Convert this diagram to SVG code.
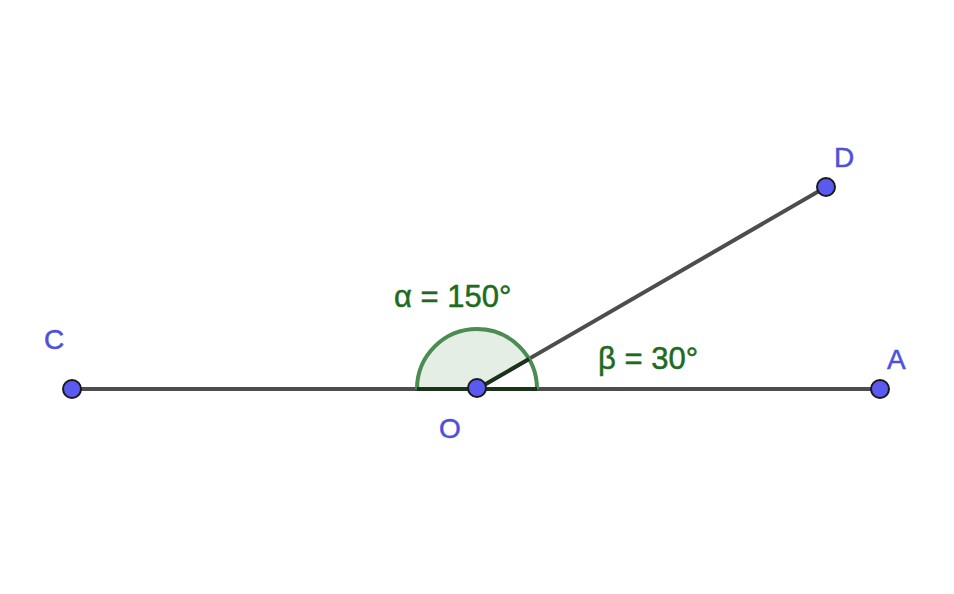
<svg xmlns="http://www.w3.org/2000/svg" width="954" height="594" viewBox="0 0 954 594">
<style>
.seg{stroke:#4d4d4d;stroke-width:4;stroke-linecap:round;fill:none}
.pt{fill:#5a5af0;stroke:#1a1a1a;stroke-width:2}
.lbl{font-family:"Liberation Sans",Arial,sans-serif;font-size:28px;fill:#4f4fdc;stroke:#4f4fdc;stroke-width:0.5}
.ang{font-family:"Liberation Sans",Arial,sans-serif;font-size:31px;fill:#1e6b1e;stroke:#1e6b1e;stroke-width:0.5}
</style>
<rect width="954" height="594" fill="#ffffff"/>
<g id="connectors">
<line class="seg" x1="72" y1="389" x2="880" y2="389"/>
<line class="seg" x1="477" y1="389" x2="826" y2="187"/>
</g>
<g id="angle-alpha">
<path d="M417 389 A60 60 0 0 1 529 359 L477 389 Z" fill="#e4eee4" stroke="none"/>
<path d="M417 389 A60 60 0 0 1 537 389" fill="none" stroke="#4a8c52" stroke-width="4"/>
<path d="M417 389 L477 389 L529 359" fill="none" stroke="#1b331b" stroke-width="4"/>
<path d="M477 389 L537 389" fill="none" stroke="#1b331b" stroke-width="4"/>
<text class="ang" x="394" y="307">α = 150°</text>
</g>
<g id="angle-beta">
<text class="ang" x="598" y="369">β = 30°</text>
</g>
<g id="C"><circle class="pt" cx="72" cy="389" r="9"/><text class="lbl" x="44" y="349">C</text></g>
<g id="O"><circle class="pt" cx="477" cy="388" r="9"/><text class="lbl" x="439" y="438">O</text></g>
<g id="A"><circle class="pt" cx="880" cy="389" r="9"/><text class="lbl" x="887" y="369">A</text></g>
<g id="D"><circle class="pt" cx="826" cy="187" r="9"/><text class="lbl" x="834" y="167">D</text></g>
</svg>
